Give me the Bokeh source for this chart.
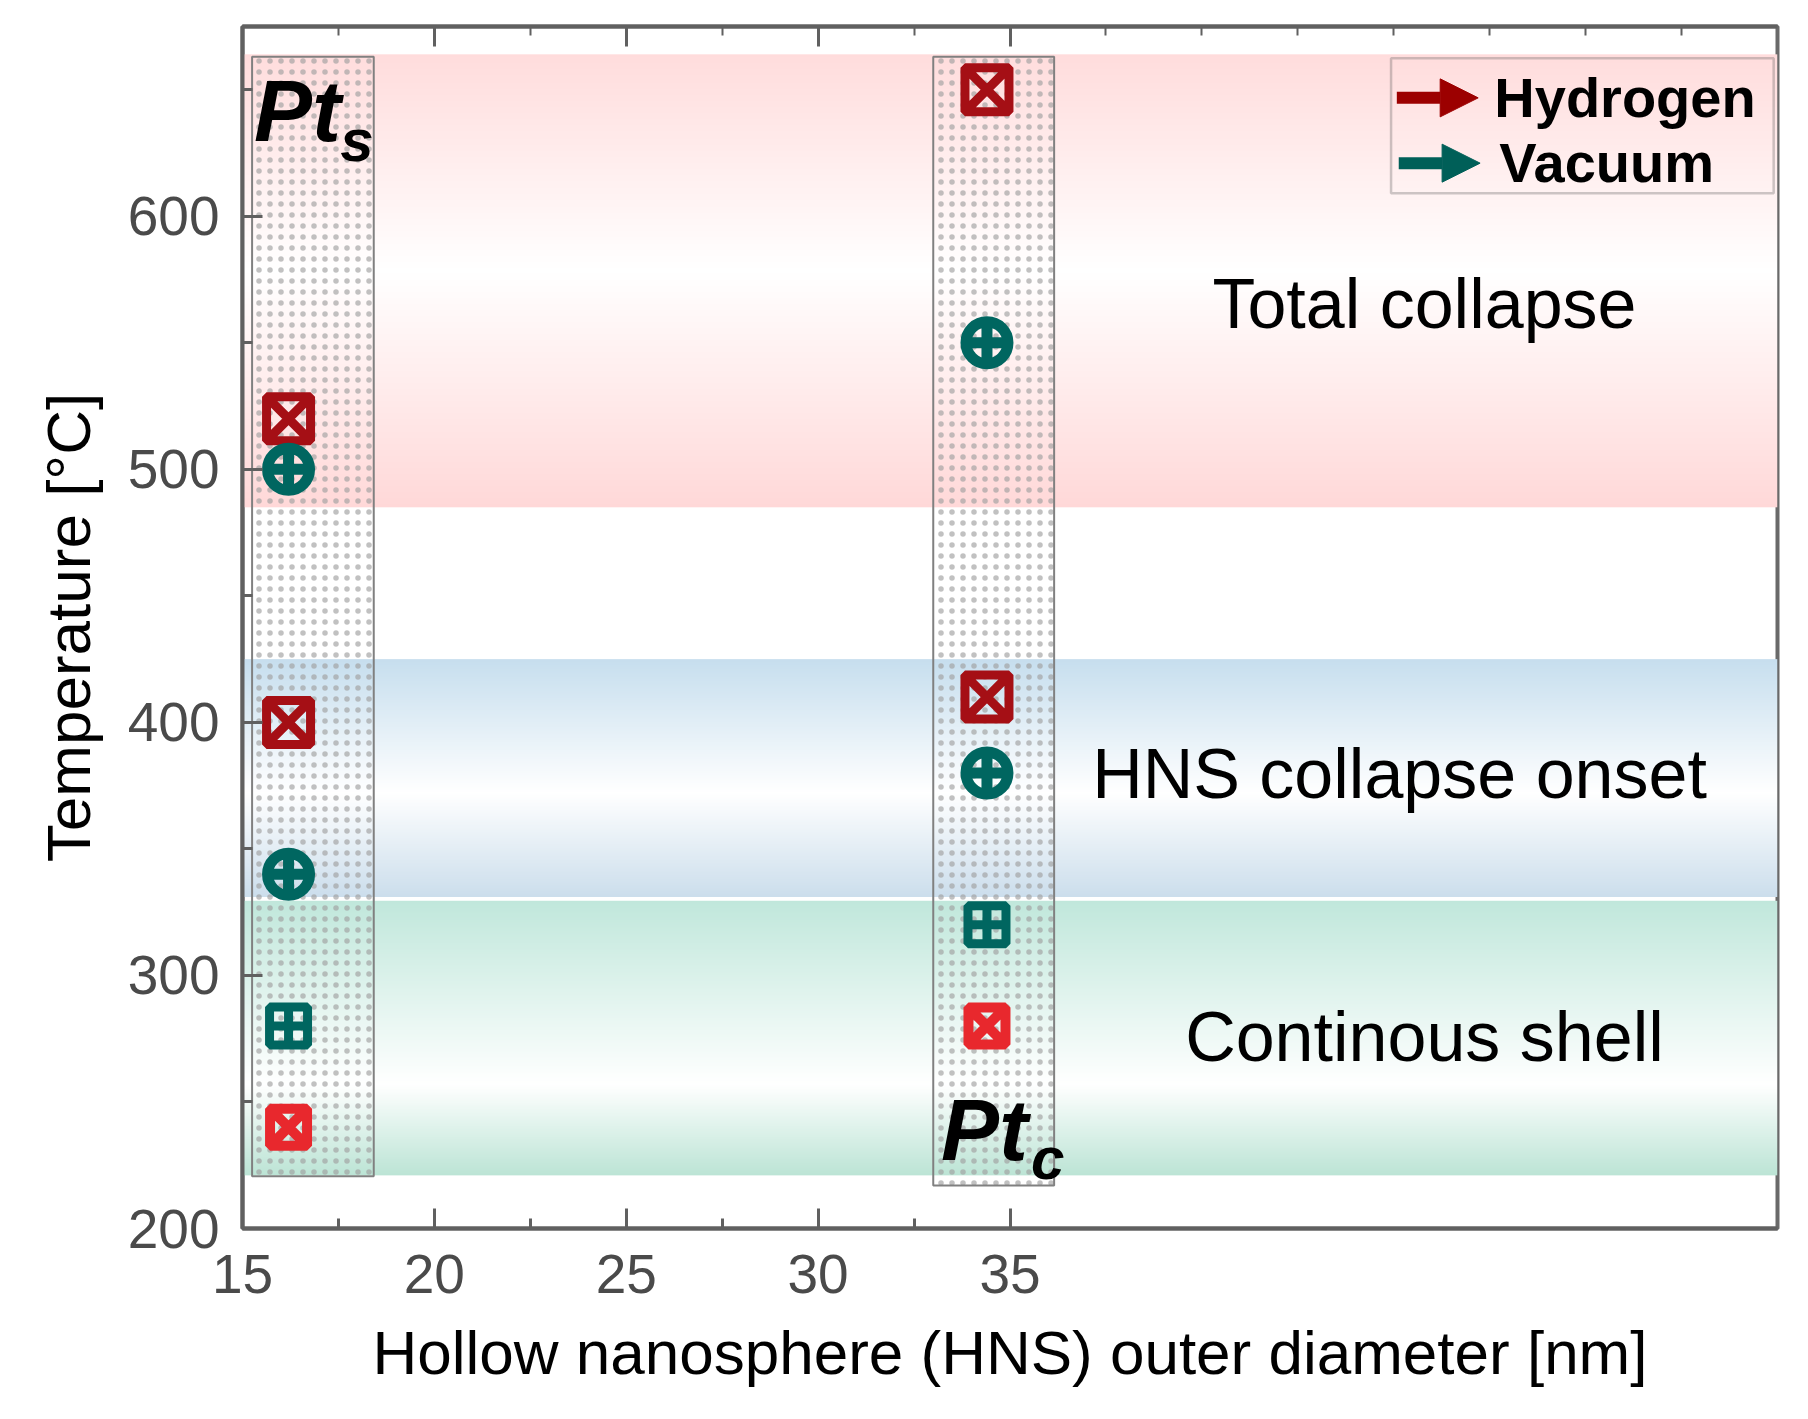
import numpy as np
from bokeh.plotting import figure
from bokeh.models import LinearAxis, FixedTicker, Range1d, Label, Arrow, NormalHead, BoxAnnotation
from bokeh.embed import file_html
from bokeh.resources import INLINE

# ---------------- data ----------------
x_lim = [15, 55]
y_lim = [200, 675]
x_ticks = [15, 20, 25, 30, 35]
x_minor = [17.5, 22.5, 27.5, 32.5]
top_minor = [17.5, 22.5, 27.5, 32.5, 37.5, 40, 42.5, 45, 47.5, 50, 52.5]
y_ticks = [200, 300, 400, 500, 600]
y_minor = [250, 350, 450, 550, 650]

diam = [16.2, 34.4]            # Pt_s, Pt_c outer diameter [nm]
h2_collapse_T = [520, 650]
h2_onset_T = [400, 410]
vac_collapse_T = [500, 550]
vac_onset_T = [340, 380]
vac_shell_T = [280, 320]
h2_shell_T = [240, 280]

region_names = ["Total collapse", "HNS collapse onset", "Continous shell"]
region_bottom = [485, 331, 221]
region_top = [664, 425, 329.5]
region_white = [578, 372, 257]
region_label_x = [45.8, 45.15, 45.8]
region_label_y = [565.5, 379.5, 275.5]

sample_main = ["Pt", "Pt"]
sample_sub = ["s", "c"]
sample_left = [15.25, 33.0]
sample_right = [18.42, 36.15]
sample_bottom = [220.6, 217]
sample_top = [663, 663]
sample_label_x = [15.30, 33.2]
sample_label_y = [642, 239]
sample_sub_x = [17.55, 35.55]
sample_sub_y = [630, 227.5]

legend_names = ["Hydrogen", "Vacuum"]
legend_box = [44.93, 54.9, 609.1, 662.5]   # left, right, bottom, top
legend_arrow_x0 = [45.08, 45.13]
legend_arrow_x1 = [47.2, 47.25]
legend_arrow_y = [646.8, 621.0]
legend_text_x = [47.62, 47.75]
legend_text_y = [647, 621.2]

# ---------------- styles ----------------
DARK_RED = "#a50f15"
TEAL = "#006660"
LIGHT_RED = "#e8282d"
ARROW_COLORS = ["#9c0000", "#005f58"]
band_top_rgb = [(255, 220, 220), (198, 222, 238), (192, 231, 219)]
band_bot_rgb = [(255, 216, 216), (204, 222, 236), (188, 228, 213)]
AX = "#606060"
SANS = "Liberation Sans"

p = figure(width=1792, height=1403,
           x_range=Range1d(*x_lim), y_range=Range1d(*y_lim),
           output_backend="svg", toolbar_location=None,
           min_border_left=242, min_border_right=15,
           min_border_top=26, min_border_bottom=175)
p.xgrid.visible = False
p.ygrid.visible = False
p.background_fill_color = "white"
p.outline_line_color = "#6a6a6a"
p.outline_line_width = 4

# gradient bands
N = 300
for bt, tp, wh, ctop, cbot in zip(region_bottom, region_top, region_white, band_top_rgb, band_bot_rgb):
    ys = bt + (np.arange(N) + 0.5) / N * (tp - bt)
    img = np.empty((N, 2), dtype=np.uint32)
    view = img.view(dtype=np.uint8).reshape((N, 2, 4))
    for i, yv in enumerate(ys):
        if yv >= wh:
            w = (yv - wh) / (tp - wh)
            c = ctop
        else:
            w = (wh - yv) / (wh - bt)
            c = cbot
        w = min(max(w, 0), 1)
        rgb = [int(round(255 * (1 - w) + ch * w)) for ch in c]
        view[i, :, 0] = rgb[0]
        view[i, :, 1] = rgb[1]
        view[i, :, 2] = rgb[2]
        view[i, :, 3] = 255
    p.image_rgba(image=[img], x=x_lim[0], y=bt, dw=x_lim[1] - x_lim[0], dh=tp - bt)

# hatched sample boxes
p.quad(left=sample_left, right=sample_right, bottom=sample_bottom, top=sample_top,
       fill_alpha=0, line_color="#808080", line_width=2,
       hatch_pattern=".", hatch_color="#a0a0a0", hatch_scale=11, hatch_weight=0.7, hatch_alpha=0.65)

# markers
p.scatter(diam, h2_collapse_T, marker="square_x", size=44, line_width=9, line_color=DARK_RED, fill_alpha=0)
p.scatter(diam, h2_onset_T, marker="square_x", size=44, line_width=9, line_color=DARK_RED, fill_alpha=0)
p.scatter(diam, vac_collapse_T, marker="circle_cross", size=42, line_width=11, line_color=TEAL, fill_alpha=0)
p.scatter(diam, vac_onset_T, marker="circle_cross", size=42, line_width=11, line_color=TEAL, fill_alpha=0)
p.scatter(diam, vac_shell_T, marker="square_cross", size=38, line_width=9, line_color=TEAL, fill_alpha=0)
p.scatter(diam, h2_shell_T, marker="square_x", size=37, line_width=10, line_color=LIGHT_RED, fill_alpha=0)

# region labels
for name, lx, ly in zip(region_names, region_label_x, region_label_y):
    p.add_layout(Label(x=lx, y=ly, text=name, text_font=SANS, text_font_size="70px",
                       text_color="black", text_align="center", text_baseline="alphabetic"))

# sample labels
for m, s, lx, ly, sx, sy in zip(sample_main, sample_sub, sample_label_x, sample_label_y, sample_sub_x, sample_sub_y):
    p.add_layout(Label(x=lx, y=ly, text=m, text_font=SANS, text_font_size="87px",
                       text_font_style="bold italic", text_color="black",
                       text_align="left", text_baseline="alphabetic"))
    p.add_layout(Label(x=sx, y=sy, text=s, text_font=SANS, text_font_size="60px",
                       text_font_style="bold italic", text_color="black",
                       text_align="left", text_baseline="alphabetic"))

# legend
p.add_layout(BoxAnnotation(left=legend_box[0], right=legend_box[1], bottom=legend_box[2], top=legend_box[3],
                           fill_alpha=0, line_color="#555555", line_width=2.5))
for name, x0, x1, ay, tx, ty, col in zip(legend_names, legend_arrow_x0, legend_arrow_x1, legend_arrow_y,
                                         legend_text_x, legend_text_y, ARROW_COLORS):
    p.add_layout(Arrow(x_start=x0, y_start=ay, x_end=x1, y_end=ay, line_color=col, line_width=12,
                       end=NormalHead(size=38, fill_color=col, line_color=col, line_width=1)))
    p.add_layout(Label(x=tx, y=ty, text=name, text_font=SANS, text_font_size="56px",
                       text_font_style="bold", text_color="black",
                       text_align="left", text_baseline="alphabetic"))

# axes
for ax in (p.xaxis[0], p.yaxis[0]):
    ax.axis_line_color = AX
    ax.axis_line_width = 4
    ax.major_tick_line_color = AX
    ax.minor_tick_line_color = AX
    ax.major_tick_line_width = 3
    ax.minor_tick_line_width = 3
    ax.major_tick_in = 20
    ax.major_tick_out = 0
    ax.minor_tick_in = 10
    ax.minor_tick_out = 0
    ax.major_label_text_font = SANS
    ax.major_label_text_font_size = "55px"
    ax.major_label_text_color = "#4a4a4a"
    ax.axis_label_text_font = SANS
    ax.axis_label_text_font_size = "62px"
    ax.axis_label_text_font_style = "normal"
    ax.axis_label_text_color = "black"

p.xaxis.ticker = FixedTicker(ticks=x_ticks, minor_ticks=x_minor)
p.yaxis.ticker = FixedTicker(ticks=y_ticks, minor_ticks=y_minor)
p.xaxis.axis_label = "Hollow nanosphere (HNS) outer diameter [nm]"
p.yaxis.axis_label = "Temperature [°C]"
p.xaxis.major_label_standoff = 26
p.yaxis.major_label_standoff = 23
p.xaxis.axis_label_standoff = 22
p.yaxis.axis_label_standoff = 22

top = LinearAxis(ticker=FixedTicker(ticks=x_ticks, minor_ticks=top_minor))
top.axis_line_color = AX
top.axis_line_width = 4
top.major_tick_line_color = AX
top.minor_tick_line_color = AX
top.major_tick_line_width = 3
top.minor_tick_line_width = 2
top.major_tick_in = 20
top.major_tick_out = 0
top.minor_tick_in = 9
top.minor_tick_out = 0
top.major_label_overrides = {t: "" for t in x_ticks}
top.major_label_text_font_size = "1px"
top.major_label_standoff = 0
p.add_layout(top, "above")

open("out.html", "w").write(file_html(p, INLINE))
